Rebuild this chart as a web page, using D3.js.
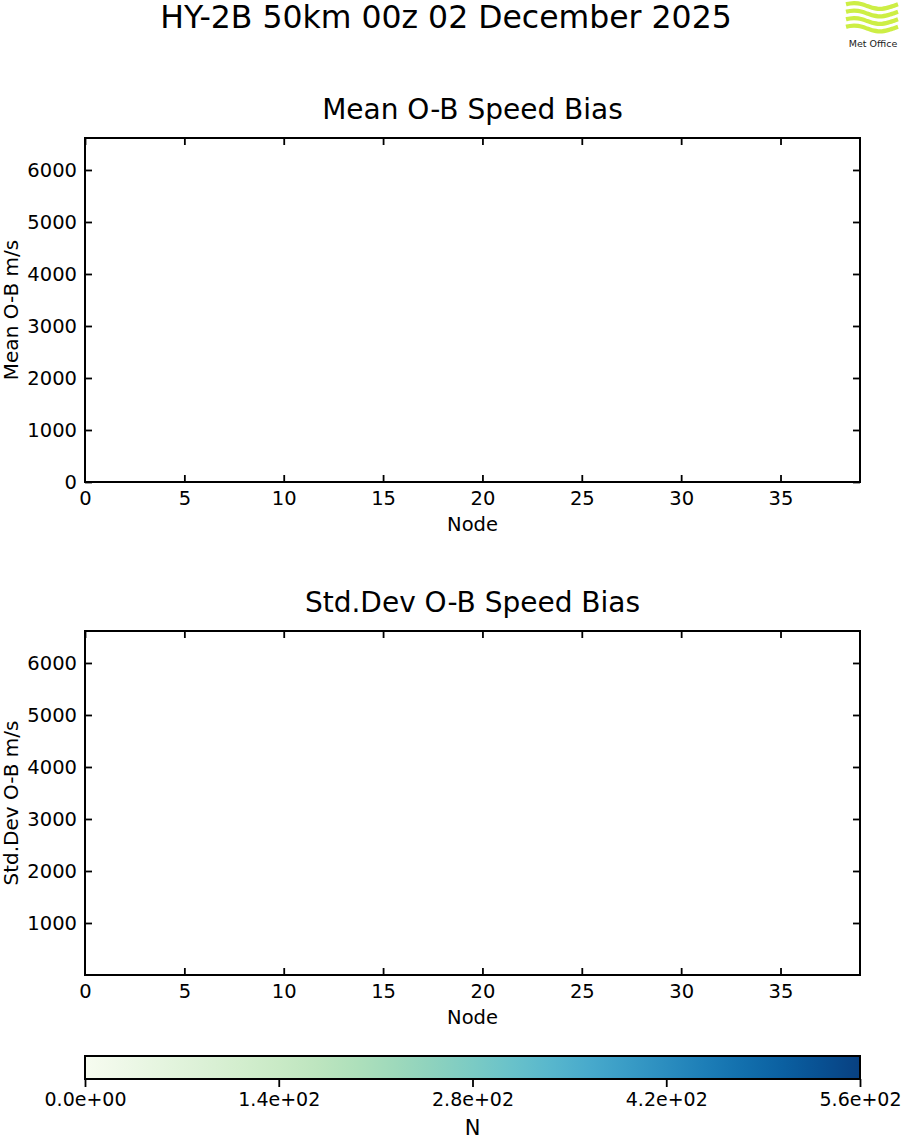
<!DOCTYPE html>
<html>
<head>
<meta charset="utf-8">
<script src="https://cdn.jsdelivr.net/npm/d3@7"></script>
<style>
  body { margin: 0; background: #fff; }
  text { font-family: "DejaVu Sans", sans-serif; fill: #000; }
</style>
</head>
<body>
<svg id="chart" width="902" height="1139"></svg>
<script>
// data (both panels are empty in the source image)
var figTitle = "HY-2B 50km 00z 02 December 2025"
var panelTitles = ["Mean O-B Speed Bias", "Std.Dev O-B Speed Bias"]
var yLabels = ["Mean O-B m/s", "Std.Dev O-B m/s"]
var xTicks = [0, 5, 10, 15, 20, 25, 30, 35]
var yTicksMean = [0, 1000, 2000, 3000, 4000, 5000, 6000]
var yTicksStd = [1000, 2000, 3000, 4000, 5000, 6000]
var xDomain = [0, 39]
var yDomain = [0, 6615]
var meanValues = []
var stdValues = []
var cbarTicks = [0, 140, 280, 420, 560]
var cbarDomain = [0, 560]

var svg = d3.select("#chart")
var left = 85, right = 860

svg.append("text")
  .attr("x", 446).attr("y", 28)
  .attr("text-anchor", "middle")
  .style("font-size", "31.5px")
  .text(figTitle)

// Met Office logo
var logo = svg.append("g").attr("transform", "translate(846,3)")
var wave = d3.line().curve(d3.curveBasis)
;[0, 7.5, 15, 22.5].forEach(function(dy) {
  var pts = d3.range(0, 53, 4).map(function(x) {
    return [x, dy + 3 - 3 * Math.sin((x / 52) * Math.PI * 2 + 0.6)]
  })
  logo.append("path")
    .attr("d", wave(pts))
    .attr("fill", "none")
    .attr("stroke", "#cdee45")
    .attr("stroke-width", 4.2)
})
logo.append("text")
  .attr("x", 27).attr("y", 44)
  .attr("text-anchor", "middle")
  .style("font-size", "9.5px")
  .style("fill", "#222")
  .text("Met Office")

function panel(top, title, ylabel, yTicks, values) {
  var bottom = top + 344
  var x = d3.scaleLinear().domain(xDomain).range([left, right])
  var y = d3.scaleLinear().domain(yDomain).range([bottom, top])
  var g = svg.append("g")

  g.append("text")
    .attr("x", (left + right) / 2).attr("y", top - 19)
    .attr("text-anchor", "middle")
    .style("font-size", "28px")
    .text(title)

  var axB = g.append("g").attr("transform", "translate(0," + bottom + ")")
    .call(d3.axisBottom(x).tickValues(xTicks).tickSizeInner(-7).tickSizeOuter(0).tickPadding(9))
  var axT = g.append("g").attr("transform", "translate(0," + top + ")")
    .call(d3.axisTop(x).tickValues(xTicks).tickSizeInner(-7).tickSizeOuter(0).tickFormat(""))
  var axL = g.append("g").attr("transform", "translate(" + left + ",0)")
    .call(d3.axisLeft(y).tickValues(yTicks).tickFormat(d3.format("d")).tickSizeInner(-7).tickSizeOuter(0).tickPadding(8))
  var axR = g.append("g").attr("transform", "translate(" + right + ",0)")
    .call(d3.axisRight(y).tickValues(yTicks).tickSizeInner(-7).tickSizeOuter(0).tickFormat(""))

  ;[axB, axT, axL, axR].forEach(function(a) {
    a.select(".domain").remove()
    a.selectAll(".tick line").attr("stroke", "#000").attr("stroke-width", 1.8)
    a.selectAll(".tick text").style("font-size", "19.5px").style("font-family", "DejaVu Sans")
  })
  axB.selectAll(".tick").filter(function(d) { return d === 0 }).select("line").remove()

  g.selectAll(".pt").data(values).enter().append("circle")
    .attr("cx", function(d) { return x(d[0]) })
    .attr("cy", function(d) { return y(d[1]) })
    .attr("r", 3)

  g.append("rect")
    .attr("x", left).attr("y", top)
    .attr("width", right - left).attr("height", bottom - top)
    .attr("fill", "none").attr("stroke", "#000").attr("stroke-width", 2)

  g.append("text")
    .attr("x", (left + right) / 2).attr("y", bottom + 49)
    .attr("text-anchor", "middle")
    .style("font-size", "19.5px")
    .text("Node")

  g.append("text")
    .attr("transform", "translate(18," + (top + bottom) / 2 + ") rotate(-90)")
    .attr("text-anchor", "middle")
    .style("font-size", "20px")
    .text(ylabel)
}

panel(138, panelTitles[0], yLabels[0], yTicksMean, meanValues)
panel(631, panelTitles[1], yLabels[1], yTicksStd, stdValues)

// colorbar
var cTop = 1056, cH = 23
var cx = d3.scaleLinear().domain(cbarDomain).range([left, right])
var grad = svg.append("defs").append("linearGradient").attr("id", "gnbu")
d3.range(0, 1.0001, 0.05).forEach(function(t) {
  grad.append("stop").attr("offset", t).attr("stop-color", d3.interpolateGnBu(t))
})
svg.append("rect")
  .attr("x", left).attr("y", cTop)
  .attr("width", right - left).attr("height", cH)
  .attr("fill", "url(#gnbu)")
  .attr("stroke", "#000").attr("stroke-width", 2)
var cax = svg.append("g").attr("transform", "translate(0," + (cTop + cH) + ")")
  .call(d3.axisBottom(cx).tickValues(cbarTicks).tickSize(8).tickPadding(6)
    .tickFormat(function(d) { return d3.format(".1e")(d).replace(/e([+-])(\d)$/, "e$10$2") }))
cax.select(".domain").remove()
cax.selectAll(".tick line").attr("stroke", "#000").attr("stroke-width", 1.8)
cax.selectAll(".tick text").style("font-size", "19px").style("font-family", "DejaVu Sans")
svg.append("text")
  .attr("x", (left + right) / 2).attr("y", 1135)
  .attr("text-anchor", "middle")
  .style("font-size", "21px")
  .text("N")
</script>
</body>
</html>
